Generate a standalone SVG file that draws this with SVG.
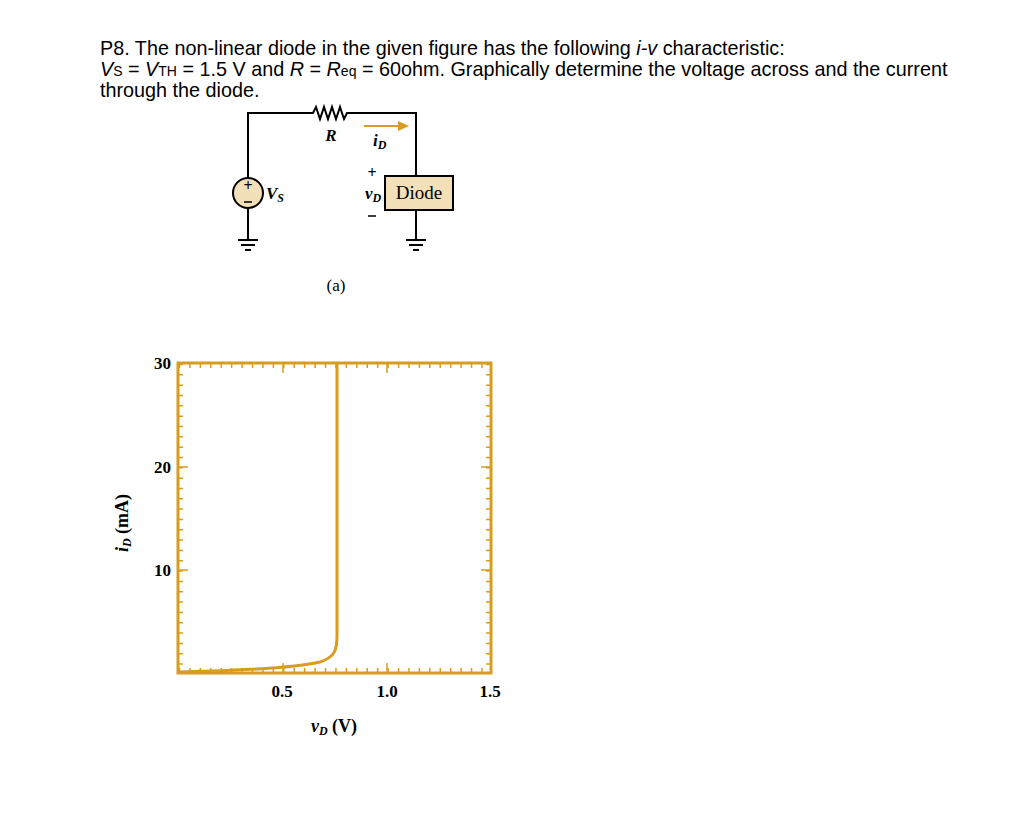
<svg xmlns="http://www.w3.org/2000/svg" width="1024" height="815" viewBox="0 0 1024 815">
<style>
.t{font-family:"Liberation Sans",Arial,sans-serif;font-size:19.8px;fill:#000}
.s{font-family:"Liberation Serif","Times New Roman",serif;fill:#000}
.w{stroke:#000;stroke-width:2;fill:none}
.o{stroke:#d89c1e;fill:none}
</style>
<rect width="1024" height="815" fill="#fff"/>
<text class="t" x="100" y="55">P8. The non-linear diode in the given figure has the following <tspan font-style="italic">i-v</tspan> characteristic:</text>
<text class="t" x="100" y="76"><tspan font-style="italic">V</tspan><tspan font-size="14">S</tspan> = <tspan font-style="italic">V</tspan><tspan font-size="14">TH</tspan> = 1.5 V and <tspan font-style="italic">R</tspan> = <tspan font-style="italic">R</tspan><tspan font-size="14">eq</tspan> = 60ohm. Graphically determine the voltage across and the current</text>
<text class="t" x="100" y="97">through the diode.</text>
<g id="connectors">
<path class="w" d="M248,178 V113 H313 l3,-6 l4,12 l4,-12 l4,12 l4,-12 l4,12 l4,-12 l4,12 l3,-6 H416 V176"/>
<path class="w" d="M248,208 V240 M238,240 h20 M241,245 h14 M245,250 h6"/>
<path class="w" d="M416,210 V240 M406,240 h20 M409,245 h14 M413,250 h6"/>
<path class="o" stroke-width="2" d="M364,126 H400"/>
<path d="M409,126 l-11,-5 v10z" fill="#d89c1e"/>
</g>
<g id="source">
<circle cx="248" cy="193" r="15" fill="#f3dfb8" stroke="#000" stroke-width="2"/>
<text class="s" x="248" y="191" font-size="16" text-anchor="middle" font-weight="bold">+</text>
<path d="M244,202 h8" stroke="#000" stroke-width="1.5"/>
<text class="s" x="266" y="199" font-size="17" font-style="italic" font-weight="bold">V<tspan font-size="12" dy="3">S</tspan></text>
</g>
<text class="s" x="331" y="141" font-size="17" font-style="italic" font-weight="bold" text-anchor="middle">R</text>
<text class="s" x="373" y="146" font-size="17" font-style="italic" font-weight="bold">i<tspan font-size="12" dy="3">D</tspan></text>
<text class="s" x="372" y="178" font-size="16" font-weight="bold" text-anchor="middle">+</text>
<text class="s" x="365" y="199" font-size="17" font-style="italic" font-weight="bold">v<tspan font-size="12" dy="3">D</tspan></text>
<path d="M368,216 h8" stroke="#000" stroke-width="1.5"/>
<g id="diode">
<rect x="385" y="176" width="68" height="34" fill="#f3dfb8" stroke="#000" stroke-width="2"/>
<text class="s" x="419" y="199" font-size="19" text-anchor="middle">Diode</text>
</g>
<text class="s" x="336" y="291" font-size="17" text-anchor="middle">(a)</text>
<g id="plot">
<g class="o" stroke-width="5" stroke-dasharray="1.5 8.93">
<path d="M178.75,365.5 H492"/><path d="M178.75,670.5 H492"/>
</g>
<g class="o" stroke-width="5" stroke-dasharray="1.5 8.83">
<path d="M180.5,363.75 V674"/><path d="M488.5,363.75 V674"/>
</g>
<path class="o" stroke-width="1.5" d="M283,363 v10 M387,363 v10 M283,673 v-10 M387,673 v-10 M178,467 h10 M178,570 h10 M491,467 h-10 M491,570 h-10"/>
<rect class="o" stroke-width="3" x="178" y="363" width="313" height="310"/>
<path class="o" stroke-width="3" d="M180,672 C260,670 300,667 320,662 C335,657 337,650 337,636 V363"/>
<g class="s" font-size="17" font-weight="bold">
<text x="171" y="369" text-anchor="end">30</text>
<text x="171" y="473" text-anchor="end">20</text>
<text x="171" y="576" text-anchor="end">10</text>
<text x="282" y="697" text-anchor="middle">0.5</text>
<text x="387" y="697" text-anchor="middle">1.0</text>
<text x="490" y="697" text-anchor="middle">1.5</text>
</g>
<text class="s" x="334" y="732" font-size="18" font-weight="bold" text-anchor="middle"><tspan font-style="italic">v</tspan><tspan font-style="italic" font-size="12" dy="3">D</tspan><tspan dy="-3"> (V)</tspan></text>
<text class="s" transform="translate(128,523) rotate(-90)" font-size="18" font-weight="bold" text-anchor="middle"><tspan font-style="italic">i</tspan><tspan font-style="italic" font-size="12" dy="3">D</tspan><tspan dy="-3"> (mA)</tspan></text>
</g>
</svg>
